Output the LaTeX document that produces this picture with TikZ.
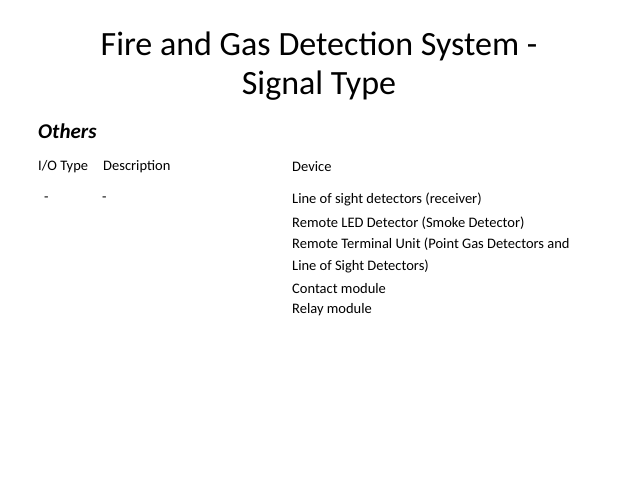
\documentclass[tikz,border=0pt]{standalone}
\usepackage{fontspec}
\setmainfont{Carlito}
\begin{document}
\begin{tikzpicture}[x=1pt,y=-1pt,
  title/.style={font=\fontsize{34}{40}\selectfont, inner sep=0},
  cell/.style={font=\fontsize{14.5}{17}\selectfont, anchor=west, inner sep=0}]
\useasboundingbox[fill=white] (0,0) rectangle (638,478);
\node[title] (t1) at (319,46) {Fire and Gas Detection System -};
\node[title] (t2) at (319,86) {Signal Type};
\node[anchor=west,inner sep=0,font=\fontsize{21}{24}\selectfont\bfseries\itshape] (oth) at (38,131) {Others};
\node[cell] (h1) at (38,167) {I/O Type};
\node[cell] (h2) at (103,167) {Description};
\node[cell] (h3) at (292,167) {Device};
\node[cell] (d1) at (44,199) {-};
\node[cell] (d2) at (102,199) {-};
\node[cell] (r1) at (292,199) {Line of sight detectors (receiver)};
\node[cell] (r2) at (292,223) {Remote LED Detector (Smoke Detector)};
\node[cell] (r3) at (292,244) {Remote Terminal Unit (Point Gas Detectors and};
\node[cell] (r4) at (292,266) {Line of Sight Detectors)};
\node[cell] (r5) at (292,289) {Contact module};
\node[cell] (r6) at (292,310) {Relay module};
\end{tikzpicture}
\end{document}
